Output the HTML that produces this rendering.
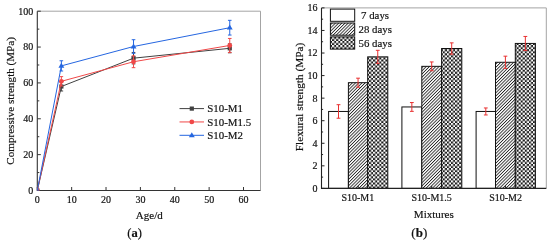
<!DOCTYPE html>
<html><head><meta charset="utf-8"><style>
html,body{margin:0;padding:0;background:#fff;width:550px;height:243px;overflow:hidden}
svg{display:block;will-change:transform}
text{font-family:'Liberation Serif',serif;fill:#111;stroke:#111;stroke-width:0.18px}
</style></head><body>
<svg width="550" height="243" viewBox="0 0 550 243">
<path d="M37.3,11.2 H260.5 V190.5" fill="none" stroke="#a4a4a4" stroke-width="1"/>
<path d="M37.3,11.2 V190.5 H260.5" fill="none" stroke="#333" stroke-width="1.1"/>
<path d="M37.3,190.50h3.5 M37.3,172.57h2 M37.3,154.64h3.5 M37.3,136.71h2 M37.3,118.78h3.5 M37.3,100.85h2 M37.3,82.92h3.5 M37.3,64.99h2 M37.3,47.06h3.5 M37.3,29.13h2 M37.3,11.20h3.5" stroke="#333" stroke-width="1"/>
<path d="M37.30,190.5v-3.5 M71.67,190.5v-3.5 M106.03,190.5v-3.5 M140.40,190.5v-3.5 M174.77,190.5v-3.5 M209.13,190.5v-3.5 M243.50,190.5v-3.5" stroke="#333" stroke-width="1"/>
<text x="33.3" y="193.90" text-anchor="end" font-size="10">0</text>
<text x="33.3" y="158.04" text-anchor="end" font-size="10">20</text>
<text x="33.3" y="122.18" text-anchor="end" font-size="10">40</text>
<text x="33.3" y="86.32" text-anchor="end" font-size="10">60</text>
<text x="33.3" y="50.46" text-anchor="end" font-size="10">80</text>
<text x="33.3" y="14.60" text-anchor="end" font-size="10">100</text>
<text x="37.30" y="202.70" text-anchor="middle" font-size="10">0</text>
<text x="71.67" y="202.70" text-anchor="middle" font-size="10">10</text>
<text x="106.03" y="202.70" text-anchor="middle" font-size="10">20</text>
<text x="140.40" y="202.70" text-anchor="middle" font-size="10">30</text>
<text x="174.77" y="202.70" text-anchor="middle" font-size="10">40</text>
<text x="209.13" y="202.70" text-anchor="middle" font-size="10">50</text>
<text x="243.50" y="202.70" text-anchor="middle" font-size="10">60</text>
<text x="149.3" y="219.4" text-anchor="middle" font-size="11">Age/d</text>
<text transform="translate(14.4,100.9) rotate(-90)" text-anchor="middle" font-size="11.1">Compressive strength (MPa)</text>
<text x="134.6" y="236.6" text-anchor="middle" font-size="12.5">(<tspan font-weight="bold">a</tspan>)</text>
<clipPath id="cl"><rect x="37.3" y="11.2" width="223.2" height="179.3"/></clipPath><g clip-path="url(#cl)">
<polyline points="37.30,190.50 61.36,86.51 133.53,58.18 229.75,48.32" fill="none" stroke="#404040" stroke-width="1"/>
<path d="M61.36,82.02V90.99M59.56,82.02h3.6M59.56,90.99h3.6" stroke="#404040" stroke-width="1"/>
<path d="M133.53,52.44V63.91M131.73,52.44h3.6M131.73,63.91h3.6" stroke="#404040" stroke-width="1"/>
<path d="M229.75,43.83V52.80M227.95,43.83h3.6M227.95,52.80h3.6" stroke="#404040" stroke-width="1"/>
<rect x="35.20" y="188.40" width="4.20" height="4.20" fill="#404040"/>
<rect x="59.26" y="84.41" width="4.20" height="4.20" fill="#404040"/>
<rect x="131.43" y="56.08" width="4.20" height="4.20" fill="#404040"/>
<rect x="227.65" y="46.22" width="4.20" height="4.20" fill="#404040"/>
<polyline points="37.30,190.50 61.36,81.31 133.53,61.76 229.75,45.45" fill="none" stroke="#f04848" stroke-width="1"/>
<path d="M61.36,76.64V85.97M59.56,76.64h3.6M59.56,85.97h3.6" stroke="#f04848" stroke-width="1"/>
<path d="M133.53,55.85V67.68M131.73,55.85h3.6M131.73,67.68h3.6" stroke="#f04848" stroke-width="1"/>
<path d="M229.75,38.45V52.44M227.95,38.45h3.6M227.95,52.44h3.6" stroke="#f04848" stroke-width="1"/>
<circle cx="37.30" cy="190.50" r="2.40" fill="#f04848"/>
<circle cx="61.36" cy="81.31" r="2.40" fill="#f04848"/>
<circle cx="133.53" cy="61.76" r="2.40" fill="#f04848"/>
<circle cx="229.75" cy="45.45" r="2.40" fill="#f04848"/>
<polyline points="37.30,190.50 61.36,65.89 133.53,46.52 229.75,27.70" fill="none" stroke="#2566e0" stroke-width="1"/>
<path d="M61.36,60.78V71.00M59.56,60.78h3.6M59.56,71.00h3.6" stroke="#2566e0" stroke-width="1"/>
<path d="M133.53,39.71V53.34M131.73,39.71h3.6M131.73,53.34h3.6" stroke="#2566e0" stroke-width="1"/>
<path d="M229.75,20.34V35.05M227.95,20.34h3.6M227.95,35.05h3.6" stroke="#2566e0" stroke-width="1"/>
<path d="M37.30,187.40 L40.24,192.36 L34.35,192.36Z" fill="#2566e0"/>
<path d="M61.36,62.79 L64.30,67.75 L58.41,67.75Z" fill="#2566e0"/>
<path d="M133.53,43.42 L136.47,48.38 L130.58,48.38Z" fill="#2566e0"/>
<path d="M229.75,24.60 L232.70,29.56 L226.81,29.56Z" fill="#2566e0"/>
</g>
<path d="M179.5,108.60H204" stroke="#404040" stroke-width="1"/>
<rect x="189.70" y="106.50" width="4.20" height="4.20" fill="#404040"/>
<text x="207.3" y="112.40" font-size="10.9">S10-M1</text>
<path d="M179.5,121.95H204" stroke="#f04848" stroke-width="1"/>
<circle cx="191.80" cy="121.95" r="2.40" fill="#f04848"/>
<text x="207.3" y="125.75" font-size="10.9">S10-M1.5</text>
<path d="M179.5,135.30H204" stroke="#2566e0" stroke-width="1"/>
<path d="M191.80,132.20 L194.75,137.16 L188.86,137.16Z" fill="#2566e0"/>
<text x="207.3" y="139.10" font-size="10.9">S10-M2</text>
<defs>
<pattern id="hat" patternUnits="userSpaceOnUse" width="2.26" height="2.26" patternTransform="rotate(45)">
<rect width="2.26" height="2.26" fill="#fff"/><rect width="0.85" height="2.26" fill="#222"/></pattern>
<pattern id="chk" patternUnits="userSpaceOnUse" width="4.1" height="4.1">
<rect width="4.1" height="4.1" fill="#1a1a1a"/><rect width="2.05" height="2.05" fill="#fff"/><rect x="2.05" y="2.05" width="2.05" height="2.05" fill="#fff"/></pattern>
</defs>
<path d="M321.5,7.9 H546.3 V188.4" fill="none" stroke="#a4a4a4" stroke-width="1"/>
<rect x="328.60" y="111.46" width="19.80" height="76.94" fill="#fff" stroke="#111" stroke-width="1"/>
<rect x="348.40" y="82.69" width="19.30" height="105.71" fill="url(#hat)" stroke="#111" stroke-width="1"/>
<rect x="367.70" y="56.86" width="20.10" height="131.54" fill="url(#chk)" stroke="#111" stroke-width="1"/>
<path d="M338.50,104.69V118.23M336.60,104.69h3.8M336.60,118.23h3.8" stroke="#e83030" stroke-width="1"/>
<path d="M358.05,78.18V87.21M356.15,78.18h3.8M356.15,87.21h3.8" stroke="#e83030" stroke-width="1"/>
<path d="M377.75,50.32V63.40M375.85,50.32h3.8M375.85,63.40h3.8" stroke="#e83030" stroke-width="1"/>
<rect x="401.90" y="106.95" width="19.90" height="81.45" fill="#fff" stroke="#111" stroke-width="1"/>
<rect x="421.80" y="66.34" width="19.80" height="122.06" fill="url(#hat)" stroke="#111" stroke-width="1"/>
<rect x="441.60" y="48.51" width="20.20" height="139.89" fill="url(#chk)" stroke="#111" stroke-width="1"/>
<path d="M411.85,102.55V111.35M409.95,102.55h3.8M409.95,111.35h3.8" stroke="#e83030" stroke-width="1"/>
<path d="M431.70,61.94V70.74M429.80,61.94h3.8M429.80,70.74h3.8" stroke="#e83030" stroke-width="1"/>
<path d="M451.70,42.87V54.15M449.80,42.87h3.8M449.80,54.15h3.8" stroke="#e83030" stroke-width="1"/>
<rect x="476.10" y="111.46" width="19.40" height="76.94" fill="#fff" stroke="#111" stroke-width="1"/>
<rect x="495.50" y="62.28" width="19.80" height="126.12" fill="url(#hat)" stroke="#111" stroke-width="1"/>
<rect x="515.30" y="43.44" width="20.10" height="144.96" fill="url(#chk)" stroke="#111" stroke-width="1"/>
<path d="M485.80,107.96V114.96M483.90,107.96h3.8M483.90,114.96h3.8" stroke="#e83030" stroke-width="1"/>
<path d="M505.40,56.18V68.37M503.50,56.18h3.8M503.50,68.37h3.8" stroke="#e83030" stroke-width="1"/>
<path d="M525.35,36.44V50.43M523.45,36.44h3.8M523.45,50.43h3.8" stroke="#e83030" stroke-width="1"/>
<path d="M321.5,7.9 V188.4 H546.3" fill="none" stroke="#222" stroke-width="1.1"/>
<path d="M321.5,188.40h3 M321.5,177.12h1.6 M321.5,165.84h3 M321.5,154.56h1.6 M321.5,143.28h3 M321.5,131.99h1.6 M321.5,120.71h3 M321.5,109.43h1.6 M321.5,98.15h3 M321.5,86.87h1.6 M321.5,75.59h3 M321.5,64.31h1.6 M321.5,53.03h3 M321.5,41.74h1.6 M321.5,30.46h3 M321.5,19.18h1.6 M321.5,7.90h3 M358.2,188.4v-2.5 M431.7,188.4v-2.5 M505.6,188.4v-2.5" stroke="#222" stroke-width="1"/>
<text x="317.5" y="191.80" text-anchor="end" font-size="10">0</text>
<text x="317.5" y="169.24" text-anchor="end" font-size="10">2</text>
<text x="317.5" y="146.68" text-anchor="end" font-size="10">4</text>
<text x="317.5" y="124.11" text-anchor="end" font-size="10">6</text>
<text x="317.5" y="101.55" text-anchor="end" font-size="10">8</text>
<text x="317.5" y="78.99" text-anchor="end" font-size="10">10</text>
<text x="317.5" y="56.43" text-anchor="end" font-size="10">12</text>
<text x="317.5" y="33.86" text-anchor="end" font-size="10">14</text>
<text x="317.5" y="11.30" text-anchor="end" font-size="10">16</text>
<text x="357.8" y="200.9" text-anchor="middle" font-size="10">S10-M1</text>
<text x="431.7" y="200.9" text-anchor="middle" font-size="10">S10-M1.5</text>
<text x="505.6" y="200.9" text-anchor="middle" font-size="10">S10-M2</text>
<text x="433.8" y="218" text-anchor="middle" font-size="11.1">Mixtures</text>
<text transform="translate(303.2,97) rotate(-90)" text-anchor="middle" font-size="11.3">Flexural strength (MPa)</text>
<text x="419.3" y="236.7" text-anchor="middle" font-size="13">(<tspan font-weight="bold">b</tspan>)</text>
<rect x="330.4" y="9.10" width="24.3" height="12.2" fill="#fff" stroke="#111" stroke-width="1"/>
<text x="361.1" y="18.70" font-size="10.8">7 days</text>
<rect x="330.4" y="23.00" width="24.3" height="12.2" fill="url(#hat)" stroke="#111" stroke-width="1"/>
<text x="358.6" y="32.60" font-size="10.8">28 days</text>
<rect x="330.4" y="36.90" width="24.3" height="12.2" fill="url(#chk)" stroke="#111" stroke-width="1"/>
<text x="358.6" y="46.50" font-size="10.8">56 days</text>
</svg>
</body></html>
